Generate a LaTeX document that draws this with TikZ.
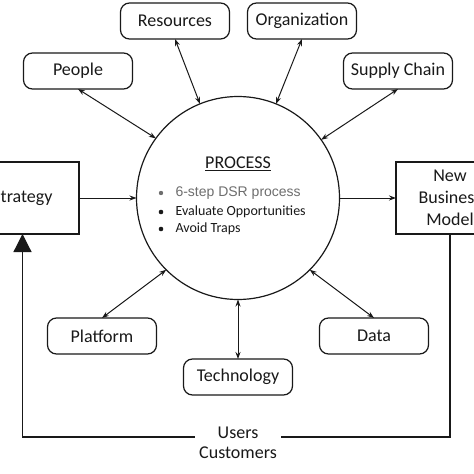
\documentclass[tikz,border=0pt]{standalone}
\usepackage{fontspec}
\setmainfont{Carlito}
\newfontfamily\arialf{Liberation Sans}
\usetikzlibrary{arrows.meta}
\definecolor{txtgray}{RGB}{110,110,110}
\definecolor{ink}{RGB}{25,25,25}
\begin{document}
\begin{tikzpicture}[x=1pt,y=-1pt,
  every node/.style={inner sep=0pt,outer sep=0pt},
  rbox/.style={draw=ink,line width=1.2pt,rounded corners=9pt,minimum width=109pt,minimum height=36pt,font=\fontsize{18}{20}\selectfont,text=ink},
  sbox/.style={draw=ink,line width=1.2pt,minimum height=72pt,font=\fontsize{18}{22}\selectfont,text=ink,align=center},
  link/.style={draw=ink,line width=1pt,{Stealth[length=7pt,width=5pt]}-{Stealth[length=7pt,width=5pt]}},
  one/.style={draw=ink,line width=1pt,-{Stealth[length=7pt,width=5pt]}},
  itm/.style={anchor=west,font=\fontsize{14}{16}\selectfont,text=ink}
]
\useasboundingbox (0,0) rectangle (474,474);
\clip (0,0) rectangle (474,474);
\fill[white] (0,0) rectangle (474,474);

\node[draw=ink,line width=1.2pt,circle,minimum size=203pt] (proc) at (238,198) {};

\node[rbox] (res) at (175,21) {Resources};
\node[rbox] (org) at (302,21) {Organization};
\node[rbox] (ppl) at (78,71) {People};
\node[rbox] (sup) at (398,71) {Supply Chain};
\node[rbox] (plat) at (102,336) {Platform};
\node[rbox] (data) at (374,336) {Data};
\node[rbox] (tech) at (238,377) {Technology};

\node[sbox,minimum width=113pt] (strat) at (22.5,198) {Strategy};
\node[sbox,minimum width=108pt] (nbm) at (450,198) {New\\Business\\Model};

\node[font=\fontsize{18}{20}\selectfont,text=ink] (ptitle) at (238,164) {\underline{PROCESS}};
\fill[txtgray] (161,193) circle (2.2pt);
\fill[ink] (161,212) circle (2.3pt);
\fill[ink] (161,229) circle (2.3pt);
\node[itm,text=txtgray,font=\arialf\fontsize{14}{16}\selectfont] (i1) at (175.5,193) {6-step DSR process};
\node[itm] (i2) at (175.5,212) {Evaluate Opportunities};
\node[itm] (i3) at (175.5,229) {Avoid Traps};

\draw[link] (ppl.south) -- (proc.144.6);
\draw[link] (res.south) -- (proc.112);
\draw[link] (org.south) -- (proc.68);
\draw[link] (sup.south) -- (proc.35.7);
\draw[link] (plat.north) -- (proc.225);
\draw[link] (data.north) -- (proc.315);
\draw[link] (tech.north) -- (proc.south);

\draw[one] (strat.east) -- (proc.west);
\draw[one] (proc.east) -- (nbm.west);

\coordinate (fb) at (238,437);
\draw[draw=ink,line width=1.2pt,-{Triangle[length=18pt,width=18pt]}] (nbm.south) |- (fb) -| (strat.south);

\node[fill=white,inner xsep=4pt,inner ysep=3pt,align=center,font=\fontsize{18}{20}\selectfont,text=ink] (users) at (238,443) {Users\\Customers};
\end{tikzpicture}
\end{document}
